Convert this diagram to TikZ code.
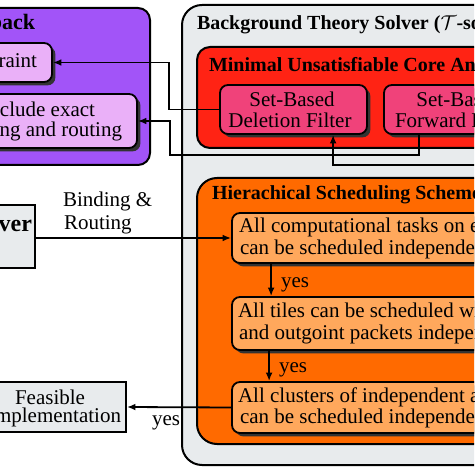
\documentclass[tikz,border=0pt]{standalone}
\usepackage{fontspec}
\setmainfont{Liberation Serif}
\usetikzlibrary{arrows.meta,shadows,fit,calc}
\definecolor{fbpurple}{RGB}{162,84,248}
\definecolor{fblight}{RGB}{234,176,248}
\definecolor{tsgray}{RGB}{232,235,237}
\definecolor{mucred}{RGB}{255,35,20}
\definecolor{filtpink}{RGB}{240,66,122}
\definecolor{hssorange}{RGB}{255,106,0}
\definecolor{hsslight}{RGB}{255,168,92}
\begin{document}
\begin{tikzpicture}[x=0.5pt,y=-0.5pt,
  txt/.style={font=\fontsize{10.5}{11}\selectfont, inner sep=0pt, outer sep=0pt},
  ttl/.style={txt, font=\fontsize{10}{11}\selectfont\bfseries},
  outerbox/.style={draw=black, line width=1pt, inner sep=0pt},
  innerbox/.style={draw=black, line width=0.9pt, inner sep=0pt, rounded corners=4pt,
    drop shadow={shadow xshift=1.7pt, shadow yshift=-1.7pt, fill=black!80, opacity=1}},
  conn/.style={line width=0.9pt, draw=black},
  tip/.style={-{Latex[length=4.2pt,width=3.4pt]}}
]
\useasboundingbox (0,0) rectangle (474,474);
\clip (0,0) rectangle (474,474);
\fill[white] (0,0) rectangle (474,474);

% Feedback
\node[outerbox, rounded corners=6pt, fill=fbpurple, fit={(-40,8) (150,165)}] (fbk) {};
\node[ttl, font=\fontsize{11}{11}\selectfont\bfseries, anchor=base east] (fbkt) at (35,30) {Feedback};
\node[innerbox, fill=fblight, fit={(-80,43) (52,82)}] (fb1) {};
\node[txt, anchor=base east] (fb1t) at (37,68) {Constraint};
\node[innerbox, fill=fblight, fit={(-80,94) (137,148)}] (fb2) {};
\node[txt, anchor=base east] (fb2a) at (95,117) {Exclude exact};
\node[txt, anchor=base east] (fb2b) at (122,137) {binding and routing};

% Background theory solver
\node[outerbox, rounded corners=10pt, fill=tsgray, fit={(182,5) (580,465)}] (ts) {};
\node[ttl, anchor=base west] (tst) at (197,30) {Background Theory Solver ($\mathcal{T}$-solver)};
\node[outerbox, rounded corners=6.5pt, fill=mucred, fit={(197,47) (580,148)}] (muc) {};
\node[ttl, anchor=base west] (muct) at (209,72) {Minimal Unsatisfiable Core Analysis};
\node[innerbox, fill=filtpink, fit={(220,85) (367,134)}] (del) {};
\node[txt, anchor=base] (dela) at (292,107) {Set-Based};
\node[txt, anchor=base] (delb) at (290,128) {Deletion Filter};
\node[innerbox, fill=filtpink, fit={(384,85) (530,134)}] (fwd) {};
\node[txt, anchor=base] (fwda) at (459,107) {Set-Based};
\node[txt, anchor=base] (fwdb) at (456,128) {Forward Filter};

% Hierarchical scheduling scheme
\node[outerbox, rounded corners=10pt, fill=hssorange, fit={(197,178) (580,444)}] (hss) {};
\node[ttl, anchor=base west] (hsst) at (212,200) {Hierachical Scheduling Scheme};
\node[innerbox, fill=hsslight, fit={(232,213) (580,263)}] (hss1) {};
\node[txt, anchor=base west] (h1a) at (239,233) {All computational tasks on each tile};
\node[txt, anchor=base west] (h1b) at (240,255) {can be scheduled independently};
\node[innerbox, fill=hsslight, fit={(232,297) (580,350)}] (hss2) {};
\node[txt, anchor=base west] (h2a) at (238,317) {All tiles can be scheduled with incoming};
\node[txt, anchor=base west] (h2b) at (239,339) {and outgoint packets independently};
\node[innerbox, fill=hsslight, fit={(232,382) (580,433)}] (hss3) {};
\node[txt, anchor=base west] (h3a) at (238,402) {All clusters of independent applications};
\node[txt, anchor=base west] (h3b) at (240,423) {can be scheduled independently};

\draw[conn,tip] ($(hss1.south west)+(40,0)$) -- ($(hss2.north west)+(40,0)$);
\node[txt, anchor=base west] (y1) at (281,288) {yes};
\draw[conn,tip] ($(hss2.south west)+(38,0)$) -- ($(hss3.north west)+(38,0)$);
\node[txt, anchor=base west] (y2) at (279,372) {yes};

% Solver and feasible implementation
\node[outerbox, fill=tsgray, fit={(-80,205) (35,268)}] (sat) {};
\node[ttl, font=\fontsize{12}{12}\selectfont\bfseries, anchor=base east] (satt) at (32,232) {Solver};
\draw[conn,tip] (sat.east |- hss1.west) -- (hss1.west);
\node[txt, anchor=base west] (br1) at (63,207) {Binding \&};
\node[txt, anchor=base west] (br2) at (64,230) {Routing};

\node[outerbox, fill=tsgray, fit={(-22,382) (126,432)}] (feas) {};
\node[txt, anchor=base] (feasa) at (50,404) {Feasible};
\node[txt, anchor=base east] (feasb) at (121,422) {Implementation};
\draw[conn,tip] (hss3.west) -- (feas.east);
\node[txt, anchor=base west] (y3) at (152,425) {yes};

% feedback connectors
\coordinate (w2) at (170,155);
\coordinate (fwdout) at ($(fwd.south west)+(36,0)$);
\coordinate (delin) at ($(del.south west)+(114,0)$);
\coordinate (muin) at (490,165);
\draw[conn,tip] (del.west) -- ++(-50,0) |- (fb1.east);
\draw[conn,tip] (fwdout) |- (w2) |- (fb2.east);
\draw[conn,tip] (muin) -| (delin);
\end{tikzpicture}
\end{document}
